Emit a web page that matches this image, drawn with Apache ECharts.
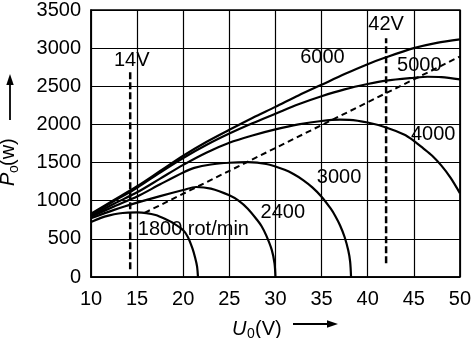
<!DOCTYPE html>
<html><head><meta charset="utf-8">
<script src="https://cdn.jsdelivr.net/npm/echarts@6/dist/echarts.min.js"></script>
<style>html,body{margin:0;padding:0;background:#fff}#c{width:474px;height:338px}</style>
</head><body><div id="c"></div>
<script>
// axis ranges / ticks
const xRange = [10, 50], xStep = 5;
const yRange = [0, 3500], yStep = 500;

// curves: [U0 (V), Po (W)]
const rpm6000 = [[10,830],[12.5,1010],[15,1190],[17.5,1390],[20,1590],[22.5,1770],[25,1930],[27.5,2085],[30,2230],[32.5,2380],[35,2520],[37.5,2660],[40,2790],[42,2880],[45,3000],[47.5,3070],[50,3115]];
const rpm5000 = [[10,815],[12.5,995],[15,1170],[17.5,1370],[20,1560],[22.5,1730],[25,1880],[27.5,2015],[30,2140],[32.5,2265],[35,2370],[37.5,2460],[40,2530],[42,2575],[45,2612],[46.5,2625],[48,2620],[50,2590]];
const rpm4000 = [[10,800],[12.5,960],[15,1110],[17.5,1290],[20,1470],[22.5,1630],[25,1760],[27.5,1855],[30,1935],[32.5,2000],[35,2045],[37,2062],[38,2060],[40,2025],[42,1960],[44,1865],[45,1785],[46,1690],[47,1590],[48,1460],[49,1300],[50,1100]];
const rpm3000 = [[10,790],[12.5,925],[15,1055],[17.5,1215],[20,1370],[21.2,1430],[23,1475],[25,1498],[27,1505],[29,1481],[31,1405],[32,1347],[33,1271],[34,1175],[35,1053],[36,895],[36.5,797],[37,678],[37.5,524],[37.9,346],[38.1,202],[38.2,0]];
const rpm2400 = [[10,770],[12.5,880],[15,975],[17.5,1060],[20,1140],[21.4,1180],[23,1158],[25,1071],[26,1000],[27,895],[28,750],[28.5,665],[29,545],[29.6,356],[29.9,180],[30,0]];
const rpm1800 = [[10,720],[11,772],[12,808],[13,832],[14,843],[15,846],[16,838],[17,812],[18,762],[19,700],[20,612],[20.5,525],[21,375],[21.3,250],[21.5,140],[21.6,0]];
const maxPowerLine = [[15.8,840],[50,2890]];
const line14V = [[14.25,100],[14.25,2700]];
const line42V = [[42,180],[42,3130]];

// text annotations: [text, U0, Po]
const annotations = [
  ['6000', 35.1, 2880],
  ['5000', 45.6, 2777],
  ['4000', 47.1, 1873],
  ['3000', 36.9, 1304],
  ['2400', 30.8, 852],
  ['1800 rot/min', 21.1, 620],
  ['14V', 14.42, 2841],
  ['42V', 42.0, 3306]
];

const FONT = '"Liberation Sans", Arial, Helvetica, sans-serif';
const chart = echarts.init(document.getElementById('c'), null, {renderer: 'canvas'});

function curve(data) {
  return {type: 'line', data: data, showSymbol: false, smooth: 0.3,
    lineStyle: {color: '#000', width: 2.2}, silent: true, z: 5};
}
function dashed(data, w, dash) {
  return {type: 'line', data: data, showSymbol: false,
    lineStyle: {color: '#000', width: w, type: dash}, silent: true, z: 4};
}

chart.setOption({
  animation: false,
  backgroundColor: '#fff',
  grid: {left: 91, right: 11, top: 6, bottom: 61, show: true, borderColor: '#000', borderWidth: 1.5},
  xAxis: {type: 'value', min: xRange[0], max: xRange[1], interval: xStep,
    axisLine: {show: true, lineStyle: {color: '#000', width: 1.5}},
    axisTick: {show: false},
    splitLine: {show: true, lineStyle: {color: '#000', width: 1.2}},
    axisLabel: {color: '#000', fontSize: 20, fontFamily: FONT, margin: 12, formatter: v => String(v)}},
  yAxis: {type: 'value', min: yRange[0], max: yRange[1], interval: yStep,
    axisLine: {show: true, lineStyle: {color: '#000', width: 1.5}},
    axisTick: {show: false},
    splitLine: {show: true, lineStyle: {color: '#000', width: 1.2}},
    axisLabel: {color: '#000', fontSize: 20, fontFamily: FONT, margin: 10, formatter: v => String(v)}},
  series: [
    curve(rpm6000), curve(rpm5000), curve(rpm4000), curve(rpm3000), curve(rpm2400), curve(rpm1800),
    dashed(maxPowerLine, 2, [6, 4]),
    dashed(line14V, 2.5, [7, 3]),
    dashed(line42V, 2.5, [7, 3]),
    {type: 'scatter', symbolSize: 0, silent: true, z: 10,
      itemStyle: {opacity: 1},
      data: annotations.map(a => [a[1], a[2], a[0]]),
      label: {show: true, position: 'inside', formatter: p => p.data[2], opacity: 1,
        color: '#000', fontSize: 20, fontFamily: FONT}}
  ],
  graphic: [
    // x-axis title
    {type: 'text', x: 232, y: 329, style: {text: 'U', font: 'italic 20px ' + FONT, fill: '#000', textAlign: 'left', textVerticalAlign: 'middle'}},
    {type: 'text', x: 247, y: 334, style: {text: '0', font: '14px ' + FONT, fill: '#000', textAlign: 'left', textVerticalAlign: 'middle'}},
    {type: 'text', x: 255, y: 329, style: {text: '(V)', font: '20px ' + FONT, fill: '#000', textAlign: 'left', textVerticalAlign: 'middle'}},
    {type: 'line', shape: {x1: 293, y1: 324, x2: 329, y2: 324}, style: {stroke: '#000', lineWidth: 1.8}},
    {type: 'polygon', shape: {points: [[338, 324], [327, 320.3], [327, 327.7]]}, style: {fill: '#000'}},
    // y-axis title (rotated)
    {type: 'group', x: 8, y: 186, rotation: Math.PI / 2, children: [
      {type: 'text', x: 0, y: 0, style: {text: 'P', font: 'italic 20px ' + FONT, fill: '#000', textAlign: 'left', textVerticalAlign: 'middle'}},
      {type: 'text', x: 13, y: 6, style: {text: 'o', font: '14px ' + FONT, fill: '#000', textAlign: 'left', textVerticalAlign: 'middle'}},
      {type: 'text', x: 20, y: 0, style: {text: '(w)', font: '20px ' + FONT, fill: '#000', textAlign: 'left', textVerticalAlign: 'middle'}}
    ]},
    {type: 'line', shape: {x1: 10, y1: 120, x2: 10, y2: 83}, style: {stroke: '#000', lineWidth: 1.8}},
    {type: 'polygon', shape: {points: [[10, 74], [6.3, 85], [13.7, 85]]}, style: {fill: '#000'}}
  ]
});
</script>
</body></html>
